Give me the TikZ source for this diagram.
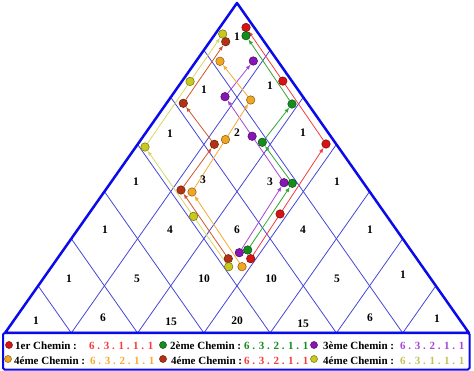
\documentclass[tikz,border=0pt]{standalone}
\usepackage{fontspec}
\setmainfont{Liberation Serif}
\usetikzlibrary{calc,arrows.meta,backgrounds}

\definecolor{triblue}{RGB}{10,10,235}
\definecolor{gridblue}{RGB}{70,70,215}
\definecolor{dRed}{RGB}{215,20,20}
\definecolor{dGreen}{RGB}{20,140,30}
\definecolor{dPurple}{RGB}{135,20,180}
\definecolor{dOrange}{RGB}{240,165,35}
\definecolor{dBrown}{RGB}{180,50,20}
\definecolor{dYellow}{RGB}{200,200,30}
\definecolor{lRed}{RGB}{245,60,60}
\definecolor{lGreen}{RGB}{50,165,50}
\definecolor{lPurple}{RGB}{165,70,215}
\definecolor{lOrange}{RGB}{245,170,50}
\definecolor{lBrown}{RGB}{210,85,40}
\definecolor{lYellow}{RGB}{215,215,100}

\begin{document}
\begin{tikzpicture}[x=1pt,y=-1pt,
    dot/.style={circle,fill=#1,draw=#1!55!black,line width=0.5pt,minimum size=8.5pt,inner sep=0pt},
    keydot/.style={dot=#1,minimum size=7pt},
    chemin/.style={draw=#1,line width=0.8pt,-{Latex[length=5pt,width=4pt]}},
    cell/.style={font=\bfseries\fontsize{11.5}{13}\selectfont,inner sep=0pt},
    legtext/.style={font=\bfseries\fontsize{11}{13}\selectfont,inner sep=0pt,anchor=base west},
    legval/.style={font=\bfseries\fontsize{11}{13}\selectfont,inner sep=0pt,anchor=base west}]
    \useasboundingbox (0,0) rectangle (474,371);

    % triangle corners
    \coordinate (L) at (5,333);
    \coordinate (R) at (469,333);
    \coordinate (T) at (237,3);

    % numbers in the cells
    \foreach \n/\x/\y/\v in {r0a/237/37/1,
        r1a/204/90/1, r1b/270/86/1,
        r2a/170/134/1, r2b/237/133/2, r2c/303/133/1,
        r3a/136/182/1, r3b/203/180/3, r3c/270/182/3, r3d/337/182/1,
        r4a/105/230/1, r4b/170/230/4, r4c/237/230/6, r4d/303/230/4, r4e/370/230/1,
        r5a/69/279/1, r5b/137/279/5, r5c/204/279/10, r5d/271/279/10, r5e/337/279/5, r5f/403/275/1,
        r6a/36/321/1, r6b/103/318/6, r6c/171/322/15, r6d/237/321/20, r6e/303/324/15, r6f/370/318/6, r6g/437/319/1}
        \node[cell] (\n) at (\x,\y) {\v};

    % 1er chemin
    \node[dot=dRed] (a1) at (250.7,258.7) {};
    \node[dot=dRed] (a3) at (326,144) {};
    \node[dot=dRed] (a5) at (246,27.5) {};
    \node[dot=dRed] (a2) at ($(a1)!0.39!(a3)$) {};
    \node[dot=dRed] (a4) at ($(a3)!0.54!(a5)$) {};

    % 2eme chemin
    \node[dot=dGreen] (b1) at (247.7,250) {};
    \node[dot=dGreen] (b2) at (292.3,183.3) {};
    \node[dot=dGreen] (b3) at (262.3,142.3) {};
    \node[dot=dGreen] (b4) at (292,104) {};
    \node[dot=dGreen] (b5) at (246,35.7) {};

    % 3eme chemin
    \node[dot=dPurple] (c1) at (239.3,252.7) {};
    \node[dot=dPurple] (c2) at (284,182.7) {};
    \node[dot=dPurple] (c4) at (225,96.7) {};
    \node[dot=dPurple] (c5) at (253.3,61) {};
    \node[dot=dPurple] (c3) at ($(c2)!0.54!(c4)$) {};

    % 4eme chemin (orange)
    \node[dot=dOrange] (d1) at (242,266.7) {};
    \node[dot=dOrange] (d2) at (192,192) {};
    \node[dot=dOrange] (d4) at (250.7,100) {};
    \node[dot=dOrange] (d5) at (220,61.3) {};
    \node[dot=dOrange] (d3) at ($(d2)!0.57!(d4)$) {};

    % 4eme chemin (brun)
    \node[dot=dBrown] (e1) at (228.3,258.7) {};
    \node[dot=dBrown] (e2) at (181,190) {};
    \node[dot=dBrown] (e3) at (214.3,144.3) {};
    \node[dot=dBrown] (e4) at (183.3,103.3) {};
    \node[dot=dBrown] (e5) at (225.7,41.7) {};

    % 4eme chemin (jaune)
    \node[dot=dYellow] (f1) at (228.7,266.7) {};
    \node[dot=dYellow] (f3) at (145,147) {};
    \node[dot=dYellow] (f5) at (222.7,34) {};
    \node[dot=dYellow] (f2) at ($(f1)!0.42!(f3)$) {};
    \node[dot=dYellow] (f4) at ($(f3)!0.58!(f5)$) {};

    \begin{pgfonlayer}{background}
        % grid
        \foreach \k in {1,...,6}{
            \draw[gridblue,line width=0.8pt] ($(L)!{\k/7}!(R)$) -- ($(T)!{\k/7}!(R)$);
            \draw[gridblue,line width=0.8pt] ($(L)!{\k/7}!(R)$) -- ($(L)!{\k/7}!(T)$);
        }
        \draw[triblue,line width=2.5pt,line join=round] (L) -- (T) -- (R) -- cycle;

        % the paths
        \draw[chemin=lRed] (a1) -- (a3);
        \draw[chemin=lRed] (a3) -- (a5);
        \draw[chemin=lGreen] (b1) -- (b2);
        \draw[chemin=lGreen] (b2) -- (b3);
        \draw[chemin=lGreen] (b3) -- (b4);
        \draw[chemin=lGreen] (b4) -- (b5);
        \draw[chemin=lPurple] (c1) -- (c2);
        \draw[chemin=lPurple] (c2) -- (c4);
        \draw[chemin=lPurple] (c4) -- (c5);
        \draw[chemin=lOrange] (d1) -- (d2);
        \draw[chemin=lOrange] (d2) -- (d4);
        \draw[chemin=lOrange] (d4) -- (d5);
        \draw[chemin=lBrown] (e1) -- (e2);
        \draw[chemin=lBrown] (e2) -- (e3);
        \draw[chemin=lBrown] (e3) -- (e4);
        \draw[chemin=lBrown] (e4) -- (e5);
        \draw[chemin=lYellow] (f1) -- (f3);
        \draw[chemin=lYellow] (f3) -- (f5);
    \end{pgfonlayer}

    % legend
    \draw[triblue,line width=2pt,rounded corners=1.5pt] (3,333) rectangle (469.5,369.5);

    \node[keydot=dRed] (k1) at (9,345) {};
    \node[legtext] (k1t) at (15,350) {1er Chemin :};
    \node[legval,text=lRed] (k1v) at (89,350) {6 . 3 . 1 . 1 . 1};
    \node[keydot=dGreen] (k2) at (163,345) {};
    \node[legtext] (k2t) at (170,350) {2ème Chemin :};
    \node[legval,text=dGreen] (k2v) at (244,350) {6 . 3 . 2 . 1 . 1};
    \node[keydot=dPurple] (k3) at (314,345) {};
    \node[legtext] (k3t) at (323,350) {3ème Chemin :};
    \node[legval,text=lPurple] (k3v) at (400,350) {6 . 3 . 2 . 1 . 1};

    \node[keydot=dOrange] (k4) at (8,359) {};
    \node[legtext] (k4t) at (14,364) {4éme Chemin :};
    \node[legval,text=lOrange] (k4v) at (90,364) {6 . 3 . 2 . 1 . 1};
    \node[keydot=dBrown] (k5) at (163,359) {};
    \node[legtext] (k5t) at (171,364) {4éme Chemin :};
    \node[legval,text=lRed] (k5v) at (244,364) {6 . 3 . 2 . 1 . 1};
    \node[keydot=dYellow] (k6) at (314,359) {};
    \node[legtext] (k6t) at (323,364) {4éme Chemin :};
    \node[legval,text=lYellow!90!black] (k6v) at (400,364) {6 . 3 . 1 . 1 . 1};
\end{tikzpicture}
\end{document}
